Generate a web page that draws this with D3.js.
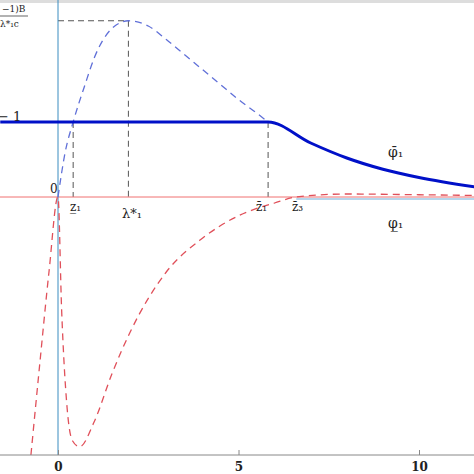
<!DOCTYPE html>
<html><head><meta charset="utf-8">
<script src="https://cdnjs.cloudflare.com/ajax/libs/d3/7.8.5/d3.min.js"></script>
<style>body{margin:0;background:#fff}text{font-family:"DejaVu Serif",serif}</style>
</head><body><svg id="plot"></svg>
<script>
var redX = [-0.75, -0.5, -0.25, 0, 0.1, 0.25, 0.4, 0.6, 1.0, 1.5, 2, 3, 4, 5, 6, 6.6, 8, 10, 11.6];
var redY = [-3.44, -2.2, -1.0, 0, -1.5, -2.8, -3.25, -3.33, -3.0, -2.35, -1.8, -1.0, -0.55, -0.25, -0.08, 0, 0.04, 0.03, 0.02];
var dashX = [0, 0.2, 0.42, 0.75, 1.0, 1.5, 1.95, 2.5, 3, 3.5, 4, 4.5, 5, 5.5, 5.82];
var dashY = [0, 0.6, 1.0, 1.5, 1.85, 2.25, 2.35, 2.28, 2.1, 1.9, 1.7, 1.5, 1.3, 1.12, 1.0];
var solidX = [-1.6, 5.82, 7, 8, 9, 10, 11.6];
var solidY = [1, 1, 0.72, 0.52, 0.37, 0.26, 0.13];
var xTicks = [0, 5, 10];
var peak = 2.35, lam = 1.95, z1 = 0.42, zb1 = 5.82;

var width = 474, height = 474;
var svg = d3.select("#plot").attr("width", width).attr("height", height);
var x = d3.scaleLinear().domain([0, 10]).range([58, 419]);
var y = d3.scaleLinear().domain([0, 1]).range([197, 122]);

var line = d3.line().x(function(d) { return x(d[0]); }).y(function(d) { return y(d[1]); }).curve(d3.curveMonotoneX);
var zip = function(a, b) { return a.map(function(v, i) { return [v, b[i]]; }); };

svg.append("rect").attr("width", width).attr("height", 3).attr("fill", "#ddd");

// gray guides
var guides = [[[0, peak], [lam, peak]], [[lam, peak], [lam, 0]], [[z1, 1], [z1, 0]], [[zb1, 1], [zb1, 0]]];
guides.forEach(function(g) {
    svg.append("path").attr("d", d3.line().x(function(d) { return x(d[0]); }).y(function(d) { return y(d[1]); })(g))
        .attr("stroke", "#555").attr("stroke-dasharray", "6,4").attr("fill", "none").attr("stroke-width", 1);
});

svg.append("line").attr("x1", x(6.6)).attr("x2", width).attr("y1", y(0) + 2).attr("y2", y(0) + 2)
    .attr("stroke", "#9cc8e6").attr("stroke-width", 1.5);
svg.append("line").attr("x1", 0).attr("x2", width).attr("y1", y(0)).attr("y2", y(0))
    .attr("stroke", "#f07070").attr("stroke-width", 1);
svg.append("line").attr("x1", x(0)).attr("x2", x(0)).attr("y1", 0).attr("y2", 455)
    .attr("stroke", "#3a8cc0").attr("stroke-width", 1);

svg.append("path").attr("d", line(zip(redX, redY))).attr("fill", "none")
    .attr("stroke", "#e0505a").attr("stroke-width", 1.3).attr("stroke-dasharray", "7,5");
svg.append("path").attr("d", line(zip(dashX, dashY))).attr("fill", "none")
    .attr("stroke", "#6070d8").attr("stroke-width", 1.3).attr("stroke-dasharray", "7,5");
svg.append("path").attr("d", line(zip(solidX, solidY))).attr("fill", "none")
    .attr("stroke", "#0010c8").attr("stroke-width", 3);

var ax = svg.append("g").attr("transform", "translate(0,455)")
    .call(d3.axisTop(x).tickValues(xTicks).tickSize(5).tickFormat(d3.format("d")));
ax.select(".domain").remove();
ax.append("line").attr("x1", 0).attr("x2", width).attr("stroke", "#888");
ax.selectAll(".tick line").attr("stroke", "#888");
ax.selectAll(".tick text").attr("y", 16).attr("font-size", 12).attr("fill", "#222")
    .attr("font-family", "DejaVu Sans").attr("font-weight", "bold");

var lab = function(t, px, py, s) {
    return svg.append("text").attr("x", px).attr("y", py).attr("font-size", s || 12).attr("fill", "#222").text(t);
};
lab("0", 50, 193);
lab("− 1", -2, 121, 13);
lab("−1)B", 2, 12, 9);
svg.append("line").attr("x1", 0).attr("x2", 28).attr("y1", 16).attr("y2", 16).attr("stroke", "#222").attr("stroke-width", 0.7);
lab("λ*₁c", 0, 27, 9);
lab("z̲₁", 70, 211, 12);
lab("λ*₁", 122, 218, 13);
lab("z̄₁", 256, 211, 12);
lab("z̄₃", 292, 211, 12);
lab("φ̄₁", 388, 157, 14);
lab("φ̲₁", 388, 228, 14);
</script></body></html>
